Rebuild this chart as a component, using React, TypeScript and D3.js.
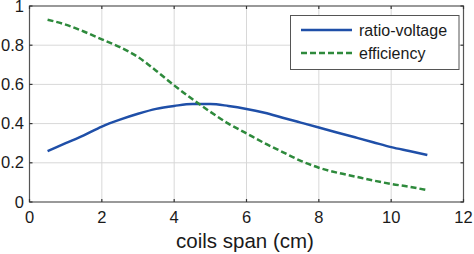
import React, { useEffect, useRef } from 'react';
import * as d3 from 'd3';

const spans = [0.5, 1, 1.5, 2, 2.5, 3, 3.5, 4, 4.5, 5, 5.5, 6, 6.5, 7, 7.5, 8, 8.5, 9, 9.5, 10, 10.5, 11];
const ratioVoltage = [0.26, 0.3, 0.34, 0.385, 0.42, 0.45, 0.475, 0.49, 0.5, 0.5, 0.49, 0.475, 0.455, 0.43, 0.405, 0.38, 0.355, 0.33, 0.305, 0.28, 0.26, 0.24];
const efficiency = [0.93, 0.905, 0.87, 0.83, 0.79, 0.74, 0.67, 0.595, 0.525, 0.46, 0.4, 0.35, 0.3, 0.255, 0.21, 0.175, 0.15, 0.13, 0.11, 0.092, 0.078, 0.06];
const xTicks = [0, 2, 4, 6, 8, 10, 12];
const yTicks = [0, 0.2, 0.4, 0.6, 0.8, 1];
const seriesNames = ['ratio-voltage', 'efficiency'];

const W = 474;
const H = 254;

const App: React.FC = () => {
  const svgRef = useRef<SVGSVGElement>(null);

  useEffect(() => {
    if (!svgRef.current) return;
    const svg = d3.select(svgRef.current);
    svg.selectAll('*').remove();

    const left = 29.5, right = 463.5, top = 6, bottom = 202;
    const x = d3.scaleLinear().domain([0, 12]).range([left, right]);
    const y = d3.scaleLinear().domain([0, 1]).range([bottom, top]);
    const font = 'Liberation Sans, Arial, sans-serif';

    svg.append('rect').attr('width', W).attr('height', H).attr('fill', '#fff');

    // grid
    const grid = svg.append('g').attr('stroke', '#d8d8d8').attr('stroke-width', 1);
    xTicks.slice(1, -1).forEach(t => {
      grid.append('line').attr('x1', x(t)).attr('x2', x(t)).attr('y1', top).attr('y2', bottom);
    });
    yTicks.slice(1, -1).forEach(t => {
      grid.append('line').attr('x1', left).attr('x2', right).attr('y1', y(t)).attr('y2', y(t));
    });

    // box
    svg.append('rect')
      .attr('x', left).attr('y', top)
      .attr('width', right - left).attr('height', bottom - top)
      .attr('fill', 'none').attr('stroke', '#555').attr('stroke-width', 1.2);

    // ticks inside, all four sides
    const tk = svg.append('g').attr('stroke', '#333').attr('stroke-width', 1.2);
    xTicks.forEach(t => {
      tk.append('line').attr('x1', x(t)).attr('x2', x(t)).attr('y1', bottom).attr('y2', bottom - 3);
      tk.append('line').attr('x1', x(t)).attr('x2', x(t)).attr('y1', top).attr('y2', top + 3);
    });
    yTicks.forEach(t => {
      tk.append('line').attr('x1', left).attr('x2', left + 3).attr('y1', y(t)).attr('y2', y(t));
      tk.append('line').attr('x1', right).attr('x2', right - 3).attr('y1', y(t)).attr('y2', y(t));
    });

    // tick labels
    svg.append('g').selectAll('text').data(xTicks).join('text')
      .attr('x', d => x(d)).attr('y', 223)
      .attr('text-anchor', 'middle')
      .attr('font-family', font).attr('font-size', 16.5).attr('fill', '#1a1a1a')
      .text(d => String(d));
    svg.append('g').selectAll('text').data(yTicks).join('text')
      .attr('x', 24).attr('y', d => y(d) + 5.5)
      .attr('text-anchor', 'end')
      .attr('font-family', font).attr('font-size', 16.5).attr('fill', '#1a1a1a')
      .text(d => String(d));

    svg.append('text')
      .attr('x', 245).attr('y', 248)
      .attr('text-anchor', 'middle')
      .attr('font-family', font).attr('font-size', 20.5).attr('fill', '#1a1a1a')
      .text('coils span (cm)');

    const line = (vals: number[]) => d3.line<number>()
      .x((d, i) => x(spans[i]))
      .y(d => y(d))
      .curve(d3.curveMonotoneX)(vals);

    svg.append('path').attr('d', line(ratioVoltage))
      .attr('fill', 'none').attr('stroke', '#1f4fa8').attr('stroke-width', 2.5);
    svg.append('path').attr('d', line(efficiency))
      .attr('fill', 'none').attr('stroke', '#2e8a3c').attr('stroke-width', 2.5)
      .attr('stroke-dasharray', '6,3');

    // legend
    const lg = svg.append('g');
    lg.append('rect').attr('x', 290.5).attr('y', 15.5).attr('width', 168.5).attr('height', 54)
      .attr('fill', '#fff').attr('stroke', '#555').attr('stroke-width', 1);
    const styles = [
      { color: '#1f4fa8', dash: null },
      { color: '#2e8a3c', dash: '6,3' }
    ];
    seriesNames.forEach((name, i) => {
      const ly = 30 + i * 23;
      const l = lg.append('line').attr('x1', 301).attr('x2', 352).attr('y1', ly).attr('y2', ly)
        .attr('stroke', styles[i].color).attr('stroke-width', 2.5);
      if (styles[i].dash) l.attr('stroke-dasharray', styles[i].dash);
      lg.append('text').attr('x', 359).attr('y', ly + 5.5)
        .attr('font-family', font).attr('font-size', 16).attr('fill', '#1a1a1a')
        .text(name);
    });
  }, []);

  return (
    <div style={{ position: 'absolute', left: 0, top: 0 }}>
      <svg ref={svgRef} width={W} height={H} />
    </div>
  );
};

export default App;
